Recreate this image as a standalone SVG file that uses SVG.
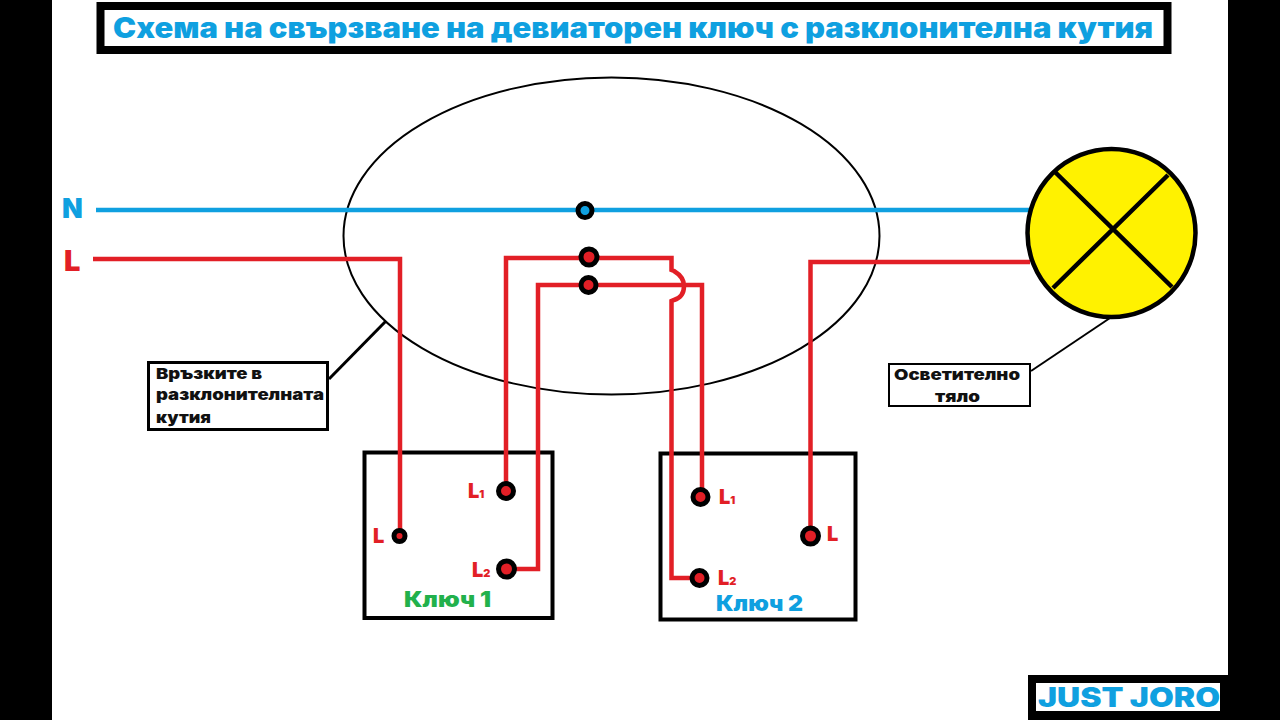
<svg xmlns="http://www.w3.org/2000/svg" width="1280" height="720" viewBox="0 0 1280 720">
<style>
.t{font-family:Inter,"Open Sans","DejaVu Sans",sans-serif;font-weight:900}
.lab{font-size:15px;fill:#111}
.red{fill:#e21f26}
.r{fill:none;stroke:#e21f26;stroke-width:4.500;stroke-linejoin:miter}
.b{fill:none;stroke:#0fa0e0;stroke-width:4.500}
.k{fill:none;stroke:#000}
.box{fill:#fff;stroke:#000}
.dot{fill:#e21f26;stroke:#000;stroke-width:5}
</style>
<rect width="1280" height="720" fill="#000"/>
<rect x="52" y="0" width="1176" height="720" fill="#fff"/>
<g id="title">
<rect x="100.500" y="6" width="1067" height="44" fill="#fff" stroke="#000" stroke-width="8"/>
<text class="t" x="113" y="38" font-size="28" fill="#0fa0e0" textLength="1040" lengthAdjust="spacingAndGlyphs">Схема на свързване на девиаторен ключ с разклонителна кутия</text>
</g>
<g id="junction-box"><ellipse cx="611.500" cy="236" rx="268" ry="158.500" fill="none" stroke="#000" stroke-width="2"/></g>
<g id="switch-1">
<rect x="364.500" y="452.500" width="188" height="165.500" class="box" stroke-width="4"/>
<text class="t" x="404" y="607" font-size="21" fill="#22b14c" textLength="87" lengthAdjust="spacingAndGlyphs">Ключ 1</text>
<text class="t red" x="373" y="543" font-size="20">L</text>
<text class="t red" x="468" y="498" font-size="20">L<tspan font-size="11">1</tspan></text>
<text class="t red" x="472" y="577" font-size="20">L<tspan font-size="11">2</tspan></text>
</g>
<g id="switch-2">
<rect x="660.500" y="453.500" width="195" height="166" class="box" stroke-width="4"/>
<text class="t" x="716" y="611" font-size="21" fill="#0fa0e0" textLength="87" lengthAdjust="spacingAndGlyphs">Ключ 2</text>
<text class="t red" x="719" y="504" font-size="20">L<tspan font-size="11">1</tspan></text>
<text class="t red" x="718" y="585" font-size="20">L<tspan font-size="11">2</tspan></text>
<text class="t red" x="827" y="541" font-size="20">L</text>
</g>
<g id="connectors">
<path class="b" d="M96 210H1030"/>
<path class="r" d="M93 259H400V535"/>
<path class="r" d="M506 491V258H671.500V270L674 271Q684 277 684 286Q684 297 674 300L671.500 301V578H698"/>
<path class="r" d="M507 569H538V285H702V496"/>
<path class="r" d="M810.500 536V262H1030"/>
<path class="k" stroke-width="3" d="M386 321L329 379"/>
<path class="k" stroke-width="2" d="M1110 318L1031 371"/>
</g>
<g id="terminals">
<circle cx="585" cy="210.500" r="7" fill="#0fa0e0" stroke="#000" stroke-width="5"/>
<circle cx="589" cy="257" r="8" class="dot"/>
<circle cx="588.500" cy="285" r="7.500" class="dot"/>
<circle cx="399.500" cy="536" r="5.500" class="dot"/>
<circle cx="506" cy="491" r="7.500" class="dot"/>
<circle cx="506.500" cy="569" r="8" class="dot"/>
<circle cx="700.500" cy="497" r="7.500" class="dot"/>
<circle cx="699.500" cy="578" r="7.500" class="dot"/>
<circle cx="810.500" cy="536" r="8" class="dot"/>
</g>
<g id="supply-labels">
<text class="t" x="62" y="218" font-size="27" fill="#0fa0e0">N</text>
<text class="t red" x="64" y="271" font-size="29">L</text>
</g>
<g id="note-box">
<rect x="148.500" y="362.500" width="179" height="67" class="box" stroke-width="3"/>
<text class="t lab" x="156" y="379" textLength="106" lengthAdjust="spacingAndGlyphs">Връзките в</text>
<text class="t lab" x="156" y="400" textLength="168" lengthAdjust="spacingAndGlyphs">разклонителната</text>
<text class="t lab" x="156" y="423" textLength="55" lengthAdjust="spacingAndGlyphs">кутия</text>
</g>
<g id="lamp">
<circle cx="1111.500" cy="233" r="84" fill="#fff200" stroke="#000" stroke-width="4.500"/>
<path class="k" stroke-width="4.500" d="M1055 172L1172 287M1168 175L1053 288"/>
</g>
<g id="lamp-note">
<rect x="889" y="364" width="141" height="42" class="box" stroke-width="2"/>
<text class="t lab" x="894" y="380" textLength="126" lengthAdjust="spacingAndGlyphs">Осветително</text>
<text class="t lab" x="935" y="402" textLength="45" lengthAdjust="spacingAndGlyphs">тяло</text>
</g>
<g id="brand">
<rect x="1028" y="675" width="252" height="45" fill="#000"/>
<rect x="1036" y="683" width="184" height="28" fill="#fff"/>
<text class="t" x="1038" y="707" font-size="27" fill="#0fa0e0" textLength="182" lengthAdjust="spacingAndGlyphs">JUST JORO</text>
</g>
</svg>
